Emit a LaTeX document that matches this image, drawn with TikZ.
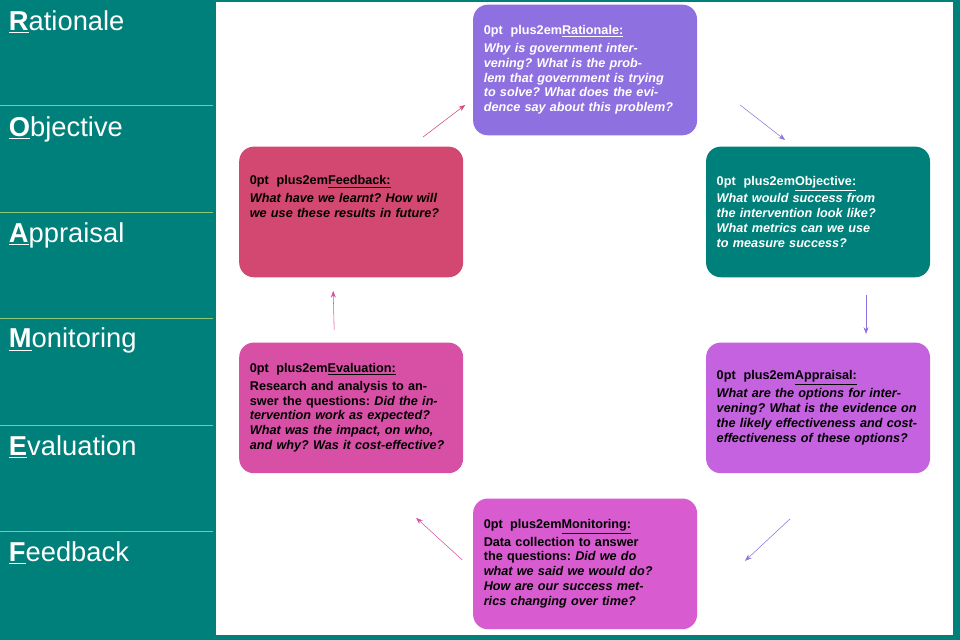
\documentclass[tikz,border=0pt]{standalone}
\usepackage{fontspec}
\setmainfont{Liberation Sans}
\usetikzlibrary{arrows.meta, positioning}
\definecolor{panel}{HTML}{00807A}
\definecolor{rulegreen}{HTML}{8CC878}
\definecolor{cRat}{HTML}{8E70E0}
\definecolor{cObj}{HTML}{00807A}
\definecolor{cApp}{HTML}{C462E0}
\definecolor{cMon}{HTML}{D85CD0}
\definecolor{cEva}{HTML}{D84FA6}
\definecolor{cFee}{HTML}{D24870}
\frenchspacing
\begin{document}
\begin{tikzpicture}[
    x=0.75pt, y=-0.75pt,
    stage/.style={draw=none, rounded corners=11pt, minimum width=168pt, minimum height=98pt,
      text width=152pt, align=center,
      font=\fontsize{9.5}{11.2}\selectfont\bfseries\hyphenpenalty=10000\exhyphenpenalty=0},
    side/.style={anchor=west, text=white, font=\fontsize{20.5}{24}\selectfont},
    link/.style={-{Stealth[length=5pt]}, thin}
]

% Background panels
\fill[panel] (0,0) rectangle (960,640);
\fill[white] (216,2) rectangle (953,635);
\foreach \y in {105,212,318,425,531}
  \draw[rulegreen] (0,\y) -- (213,\y);

% Side labels
\node[side] (lRat) at (4,22) {\underline{\textbf{R}}ationale};
\node[side] (lObj) at (4,129) {\underline{\textbf{O}}bjective};
\node[side] (lApp) at (4,235) {\underline{\textbf{A}}ppraisal};
\node[side] (lMon) at (4,341) {\underline{\textbf{M}}onitoring};
\node[side] (lEva) at (4,447) {\underline{\textbf{E}}valuation};
\node[side] (lFee) at (4,553) {\underline{\textbf{F}}eedback};

% Stages
\node[stage, fill=cRat, text=white] (rat) at (585,70) {\underline{Rationale:}\\[2pt]
  \itshape Why is government intervening? What is the problem that government is trying to solve? What does the evidence say about this problem?};
\node[stage, fill=cObj, text=white] (obj) at (818,212) {\underline{Objective:}\\[2pt]
  \itshape What would success from the intervention look like? What metrics can we use to measure success?};
\node[stage, fill=cApp] (app) at (818,408) {\underline{Appraisal:}\\[2pt]
  \itshape What are the options for intervening? What is the evidence on the likely effectiveness and cost-effectiveness of these options?};
\node[stage, fill=cMon] (mon) at (585,564) {\underline{Monitoring:}\\[2pt]
  Data collection to answer the questions: \itshape Did we do what we said we would do? How are our success metrics changing over time?};
\node[stage, fill=cEva] (eva) at (351,408) {\underline{Evaluation:}\\[2pt]
  Research and analysis to answer the questions: \itshape Did the intervention work as expected? What was the impact, on who, and why? Was it cost-effective?};
\node[stage, fill=cFee] (fee) at (351,212) {\underline{Feedback:}\\[2pt]
  \itshape What have we learnt? How will we use these results in future?\\[12pt]\mbox{}};

% Arrow ends
\coordinate (a1) at (423,137); \coordinate (b1) at (465,105);
\coordinate (a2) at (740,105); \coordinate (b2) at (785,140);
\coordinate (a3) at (866,295); \coordinate (b3) at (866,334);
\coordinate (a4) at (790,519); \coordinate (b4) at (745,561);
\coordinate (a5) at (462,560); \coordinate (b5) at (416,518);
\coordinate (a6) at (334,330); \coordinate (b6) at (333,291);

\draw[link, cFee] (a1) -- (b1);
\draw[link, cRat] (a2) -- (b2);
\draw[link, cRat] (a3) -- (b3);
\draw[link, cRat] (a4) -- (b4);
\draw[link, cEva] (a5) -- (b5);
\draw[link, cEva] (a6) -- (b6);

\end{tikzpicture}
\end{document}
